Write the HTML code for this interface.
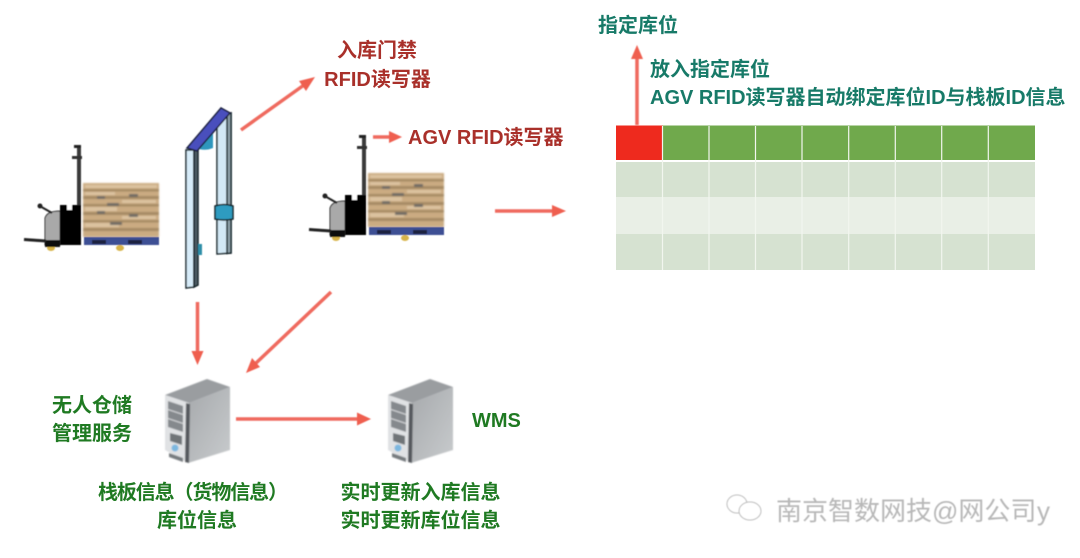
<!DOCTYPE html>
<html><head><meta charset="utf-8"><style>
html,body{margin:0;padding:0;background:#fff}
svg{display:block}
text{font-family:"Liberation Sans","Noto Sans CJK SC",sans-serif;font-weight:bold}
.r{fill:#a9302a;font-size:20px}
.g{fill:#1f7a22;font-size:20px}
.t{fill:#177a68;font-size:20px}
.a{stroke:#ef6a5e;stroke-width:3.500;fill:none}
.h{fill:#ef5f50}
</style></head><body>
<svg width="1080" height="558" viewBox="0 0 1080 558" xmlns="http://www.w3.org/2000/svg">
<defs>
<filter id="b"><feGaussianBlur stdDeviation="0.5"/></filter>
<filter id="b1"><feGaussianBlur stdDeviation="0.9"/></filter>
<filter id="b2"><feGaussianBlur stdDeviation="0.7"/></filter>
<linearGradient id="sd" x1="0" y1="0" x2="1" y2="1"><stop offset="0" stop-color="#a6a9ac"/><stop offset="1" stop-color="#c8cbcd"/></linearGradient>
<g id="stack" filter="url(#b1)">
<rect x="83" y="183" width="76" height="54" fill="#cbab82"/>
<g fill="#a68a64">
<rect x="83" y="189" width="76" height="2.500"/><rect x="83" y="196" width="76" height="3"/><rect x="83" y="204" width="76" height="2.500"/><rect x="83" y="212" width="76" height="3"/><rect x="83" y="220" width="76" height="2.500"/><rect x="83" y="228" width="76" height="3"/>
</g>
<g fill="#dcc3a0"><rect x="85" y="185" width="72" height="3"/><rect x="85" y="192" width="30" height="3"/><rect x="122" y="200" width="34" height="3"/><rect x="85" y="207" width="32" height="4"/><rect x="122" y="216" width="34" height="3"/><rect x="85" y="223" width="34" height="4"/></g>
<g fill="#6f6a64"><rect x="97" y="196" width="8" height="3"/><rect x="129" y="194" width="9" height="3"/><rect x="97" y="211" width="8" height="3"/><rect x="129" y="214" width="9" height="3"/><rect x="107" y="203" width="12" height="3"/><rect x="110" y="222" width="12" height="3"/></g>
</g>
<g id="fork" filter="url(#b)">
<use href="#stack"/>
<rect x="84" y="237" width="75" height="8" fill="#3d4f94"/>
<rect x="92" y="240" width="14" height="4" fill="#1d2440"/><rect x="128" y="240" width="14" height="4" fill="#1d2440"/>
<ellipse cx="120" cy="248" rx="4" ry="3" fill="#d8b44a"/><ellipse cx="51" cy="248" rx="4" ry="3" fill="#d8b44a"/>
<rect x="77" y="146" width="4" height="90" fill="#3a3a3a"/>
<rect x="74" y="145" width="7" height="3" fill="#222"/><rect x="72" y="156" width="10" height="3" fill="#333"/>
<rect x="60" y="205" width="21" height="40" fill="#050505"/>
<rect x="67" y="205" width="5" height="5" fill="#fff"/>
<path d="M45 245V218Q47 211 60 211V245Z" fill="#a9a9a9" stroke="#222"/>
<path d="M38 205L52 213" stroke="#222" stroke-width="2"/><circle cx="40" cy="206" r="2.500" fill="#222"/>
<rect x="45" y="240" width="15" height="7" fill="#111"/>
<path d="M24 239.500L46 241" stroke="#222" stroke-width="3"/>
</g>
<g id="server" filter="url(#b2)">
<path d="M24 24L65 8V71L23 84Z" fill="url(#sd)"/>
<path d="M0 16L42 0L65 8L24 24Z" fill="#9a9da0"/>
<path d="M0 16L24 24L23 84L0 71Z" fill="#e0e2e4"/>
<path d="M21 24L25 25L24 84L20 83Z" fill="#55595d"/>
<path d="M3 22L18 27V35L3 30ZM3 31L18 36V44L3 39ZM3 40L18 45V53L3 48Z" fill="#85898d"/>
<path d="M5 54L17 57V66L5 62Z" fill="#707478"/>
<circle cx="10" cy="69" r="3.500" fill="#7cb7df"/>
<path d="M4 74L18 79V83L4 78Z" fill="#777b7f"/>
</g>
</defs>
<rect width="1080" height="558" fill="#fff"/>

<!-- table -->
<g>
<rect x="616" y="125.500" width="419" height="34.500" fill="#70a94c"/>
<rect x="616" y="125.500" width="46.500" height="34.500" fill="#ee2a1e"/>
<rect x="616" y="162" width="419" height="35" fill="#d6e2d1"/>
<rect x="616" y="197" width="419" height="37" fill="#e9efe6"/>
<rect x="616" y="234" width="419" height="36" fill="#d6e2d1"/>
<g stroke="#f2f6ef" stroke-width="1.200">
<path d="M662.500 126V270M709 126V270M755.500 126V270M802 126V270M848.700 126V270M895.300 126V270M941.700 126V270M988.300 126V270"/>
</g>
</g>

<use href="#fork"/>
<use href="#fork" x="285" y="-10"/>

<!-- gate -->
<g filter="url(#b)" stroke="#16262c" stroke-width="1.500">
<path d="M217 122L222 116L231 113V253L217 254Z" fill="#d2e8f5"/>
<path d="M227 114L231 113V253L227 253.500Z" fill="#8ea1aa"/>
<path d="M186 150H194V287L186 288Z" fill="#d6ebf8"/>
<path d="M194 150L198 147V285L194 287Z" fill="#4d5c63"/>
<path d="M199 142L213 130V148Q206 151 199 149Z" fill="#2f96bd" stroke="none"/>
<path d="M187 148L221 108L230 113L197 151Z" fill="#4a4fbd" stroke="#1f2340"/>
<path d="M215 206Q224 203 233 206V219Q224 221 215 219Z" fill="#2f9bc0"/>
<rect x="198" y="244" width="4" height="11" fill="#2f8ea8" stroke="none"/>
</g>

<!-- servers -->
<use href="#server" x="165" y="379"/>
<use href="#server" x="388" y="379"/>

<!-- arrows -->
<g filter="url(#b)">
<path class="a" d="M241 130L304 85"/><path class="h" d="M315 77L299 81L306 91Z"/>
<path class="a" d="M373 137H390"/><path class="h" d="M402 137L389 131V143Z"/>
<path class="a" d="M495 211H553"/><path class="h" d="M566 211L552 205V217Z"/>
<path class="a" d="M637 125V58"/><path class="h" d="M637 45L631 59H643Z"/>
<path class="a" d="M197.500 302V353"/><path class="h" d="M197.500 365L191.500 351H203.500Z"/>
<path class="a" d="M331 292L255 364"/><path class="h" d="M246 373L260 367L252 358Z"/>
<path class="a" d="M236 419H360"/><path class="h" d="M371 419L357 412.500V425.500Z"/>
</g>

<!-- labels -->
<text class="r" x="377" y="57" text-anchor="middle">入库门禁</text>
<text class="r" x="377.500" y="86" text-anchor="middle">RFID读写器</text>
<text class="r" x="408" y="144">AGV RFID读写器</text>
<text class="t" x="598" y="32">指定库位</text>
<text class="t" x="650" y="76">放入指定库位</text>
<text class="t" x="650" y="104">AGV RFID读写器自动绑定库位ID与栈板ID信息</text>
<text class="g" x="52" y="412">无人仓储</text>
<text class="g" x="52" y="440">管理服务</text>
<text class="g" x="472" y="427">WMS</text>
<text class="g" x="98" y="499" textLength="190" lengthAdjust="spacing">栈板信息（货物信息）</text>
<text class="g" x="197" y="527" text-anchor="middle">库位信息</text>
<text class="g" x="420.500" y="499" text-anchor="middle">实时更新入库信息</text>
<text class="g" x="420.500" y="527" text-anchor="middle">实时更新库位信息</text>

<!-- watermark -->
<g filter="url(#b)">
<g fill="#fff" stroke="#bcbcbc" stroke-width="1">
<ellipse cx="737" cy="504" rx="10" ry="9"/>
<ellipse cx="750" cy="511" rx="11" ry="9"/>
</g>
<text x="776" y="520" style="font-weight:normal;font-size:26px" fill="#b8b8b8">南京智数网技@网公司</text>
<text x="1037" y="520" style="font-weight:normal;font-size:26px" fill="#b8b8b8">y</text>
</g>
</svg>
</body></html>
